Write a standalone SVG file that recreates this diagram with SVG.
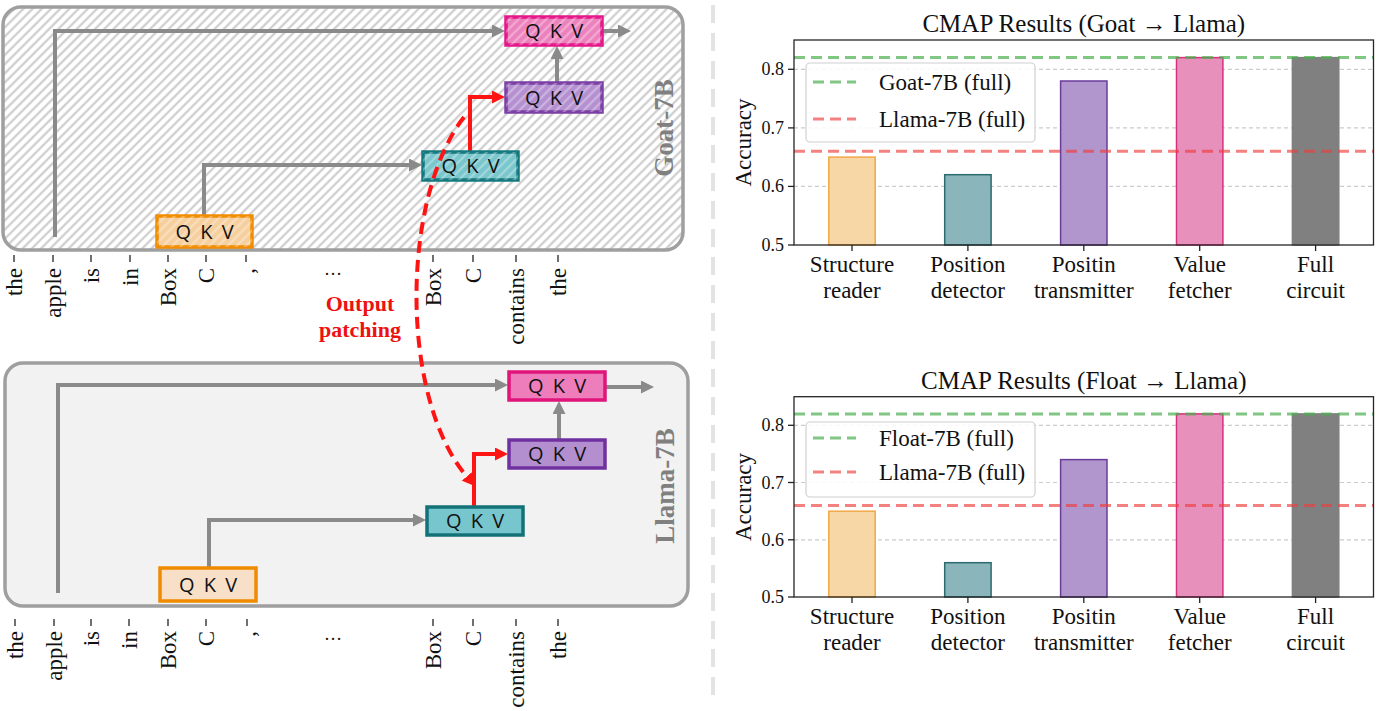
<svg xmlns="http://www.w3.org/2000/svg" width="1376" height="711" viewBox="0 0 1376 711">
<defs>
<style>
.panel{stroke:#9f9f9f;stroke-width:3.5}
.qkv{font-family:"Open Sans","DejaVu Sans",sans-serif;font-size:20px;letter-spacing:2px;fill:#111;text-anchor:middle}
.conn{fill:none;stroke:#8a8a8a;stroke-width:4}
.red{fill:none;stroke:#ff1414;stroke-width:4}
.patch{fill:none;stroke:#ff1414;stroke-width:4;stroke-dasharray:12 7}
.tok{font-family:"Liberation Serif","Times New Roman",serif;font-size:23px;fill:#111;text-anchor:end;dominant-baseline:central}
.tick{stroke:#222;stroke-width:1.3}
.model{font-family:"Liberation Serif","Times New Roman",serif;font-size:27px;font-weight:bold;fill:#808080;text-anchor:middle}
.serif{font-family:"Liberation Serif","Times New Roman",serif;fill:#111}
.title{font-size:25px;text-anchor:middle}
.ytl{font-size:18px;text-anchor:end}
.xtl{font-size:23px;text-anchor:middle}
.leg{font-size:23px}
.grid{stroke:#cccccc;stroke-width:1.2;stroke-dasharray:4 3}
.spine{stroke:#262626;stroke-width:1.3;fill:none}
.refg{stroke:#4caf50;stroke-opacity:0.7;stroke-width:3;stroke-dasharray:11 6}
.refr{stroke:#f03c3c;stroke-opacity:0.65;stroke-width:3;stroke-dasharray:11 6}
.legbox{fill:#fff;fill-opacity:0.85;stroke:#d0d0d0;stroke-width:1.2}
.b1{fill:#f7d7a5;stroke:#f0a848;stroke-width:1.5}
.b2{fill:#8ab5bb;stroke:#2c6a70;stroke-width:1.5}
.b3{fill:#b096cc;stroke:#6a3d9a;stroke-width:1.5}
.b4{fill:#e690bb;stroke:#d6307e;stroke-width:1.5}
.b5{fill:#808080;stroke:#808080;stroke-width:1.5}
</style>
<pattern id="hatch" patternUnits="userSpaceOnUse" width="6.5" height="6.5" patternTransform="rotate(45)">
<rect width="6.5" height="6.5" fill="#ffffff"/>
<line x1="3.25" y1="0" x2="3.25" y2="6.5" stroke="#c9c9c9" stroke-width="2"/>
</pattern>
<pattern id="hatchw" patternUnits="userSpaceOnUse" width="6.5" height="6.5" patternTransform="rotate(45)">
<line x1="3.25" y1="0" x2="3.25" y2="6.5" stroke="#ffffff" stroke-opacity="0.35" stroke-width="2"/>
</pattern>
<marker id="ag" viewBox="0 0 13 13" refX="2" refY="6.5" markerWidth="13" markerHeight="13" markerUnits="userSpaceOnUse" orient="auto">
<path d="M0,0 L13,6.5 L0,13 z" fill="#8a8a8a"/>
</marker>
<marker id="ar" viewBox="0 0 13 13" refX="2" refY="6.5" markerWidth="13" markerHeight="13" markerUnits="userSpaceOnUse" orient="auto">
<path d="M0,0 L13,6.5 L0,13 z" fill="#ff1414"/>
</marker>
</defs>
<rect width="1376" height="711" fill="#ffffff"/>

<!-- separator -->
<line x1="713" y1="5" x2="713" y2="700" stroke="#e3e3e3" stroke-width="4" stroke-dasharray="18 10"/>

<!-- ===== Top panel (Goat-7B) ===== -->
<g id="goat-panel">
<rect class="panel" x="3" y="7" width="680" height="243" rx="18" fill="url(#hatch)"/>
<text class="model" transform="translate(673,128) rotate(-90)">Goat-7B</text>
</g>
<g id="goat-connectors">
<path class="conn" d="M55,237 V31 H494" marker-end="url(#ag)"/>
<path class="conn" d="M602,31 H620" marker-end="url(#ag)"/>
<path class="conn" d="M557,83 V57" marker-end="url(#ag)"/>
<path class="conn" d="M204,216 V165 H411" marker-end="url(#ag)"/>
<path class="red" d="M470,152 V97 H494" marker-end="url(#ar)"/>
</g>
<g id="goat-orange">
<rect x="157" y="216" width="95" height="31" fill="#f6cf9e" stroke="#f28c00" stroke-width="3.5"/>
<rect x="157" y="216" width="95" height="31" fill="url(#hatchw)"/>
<text class="qkv" x="205.5" y="238.5">Q K V</text>
</g>
<g id="goat-teal">
<rect x="423" y="152" width="95" height="28" fill="#79c6cc" stroke="#157a80" stroke-width="3.5"/>
<rect x="423" y="152" width="95" height="28" fill="url(#hatchw)"/>
<text class="qkv" x="471.5" y="173">Q K V</text>
</g>
<g id="goat-purple">
<rect x="506" y="83" width="96" height="29" fill="#b590d0" stroke="#7b3fa6" stroke-width="3.5"/>
<rect x="506" y="83" width="96" height="29" fill="url(#hatchw)"/>
<text class="qkv" x="555" y="104.5">Q K V</text>
</g>
<g id="goat-pink">
<rect x="506" y="17" width="96" height="28" fill="#ec82bd" stroke="#e5178a" stroke-width="3.5"/>
<rect x="506" y="17" width="96" height="28" fill="url(#hatchw)"/>
<text class="qkv" x="555" y="38">Q K V</text>
</g>

<!-- top tokens -->
<g id="goat-tokens">
<g class="tick">
<line x1="14" y1="255" x2="14" y2="262"/><line x1="53" y1="255" x2="53" y2="262"/><line x1="91" y1="255" x2="91" y2="262"/><line x1="130" y1="255" x2="130" y2="262"/><line x1="168" y1="255" x2="168" y2="262"/><line x1="206" y1="255" x2="206" y2="262"/><line x1="246" y1="255" x2="246" y2="262"/><line x1="433" y1="255" x2="433" y2="262"/><line x1="473" y1="255" x2="473" y2="262"/><line x1="516" y1="255" x2="516" y2="262"/><line x1="558" y1="255" x2="558" y2="262"/>
</g>
<text class="tok" transform="translate(14,268) rotate(-90)">the</text>
<text class="tok" transform="translate(53,268) rotate(-90)">apple</text>
<text class="tok" transform="translate(91,268) rotate(-90)">is</text>
<text class="tok" transform="translate(130,268) rotate(-90)">in</text>
<text class="tok" transform="translate(168,268) rotate(-90)">Box</text>
<text class="tok" transform="translate(206,268) rotate(-90)">C</text>
<text class="tok" transform="translate(246,268) rotate(-90)">,</text>
<text class="serif" x="333" y="275" font-size="18" text-anchor="middle">…</text>
<text class="tok" transform="translate(433,268) rotate(-90)">Box</text>
<text class="tok" transform="translate(473,268) rotate(-90)">C</text>
<text class="tok" transform="translate(516,268) rotate(-90)">contains</text>
<text class="tok" transform="translate(558,268) rotate(-90)">the</text>
</g>

<!-- ===== Bottom panel (Llama-7B) ===== -->
<g id="llama-panel">
<rect class="panel" x="5" y="363" width="683" height="243" rx="18" fill="#f2f2f2"/>
<text class="model" transform="translate(674,486) rotate(-90)">Llama-7B</text>
</g>
<g id="llama-connectors">
<path class="conn" d="M58,593 V385 H497" marker-end="url(#ag)"/>
<path class="conn" d="M605,387 H643" marker-end="url(#ag)"/>
<path class="conn" d="M559,440 V412" marker-end="url(#ag)"/>
<path class="conn" d="M209,568 V520 H415" marker-end="url(#ag)"/>
<path class="red" d="M474,507 V454 H497" marker-end="url(#ar)"/>
</g>
<g id="llama-orange">
<rect x="160" y="568" width="96" height="33" fill="#f8dfc8" stroke="#f08a00" stroke-width="3.5"/>
<text class="qkv" x="209" y="591.5">Q K V</text>
</g>
<g id="llama-teal">
<rect x="427" y="507" width="96" height="28" fill="#78c6cd" stroke="#137278" stroke-width="3.5"/>
<text class="qkv" x="476" y="528">Q K V</text>
</g>
<g id="llama-purple">
<rect x="509" y="440" width="96" height="28" fill="#b38fd0" stroke="#7030a0" stroke-width="3.5"/>
<text class="qkv" x="558" y="461">Q K V</text>
</g>
<g id="llama-pink">
<rect x="509" y="372" width="96" height="28" fill="#ee7dbb" stroke="#e0147a" stroke-width="3.5"/>
<text class="qkv" x="558" y="393">Q K V</text>
</g>

<!-- bottom tokens -->
<g id="llama-tokens">
<g class="tick">
<line x1="15" y1="619" x2="15" y2="626"/><line x1="54" y1="619" x2="54" y2="626"/><line x1="91" y1="619" x2="91" y2="626"/><line x1="129" y1="619" x2="129" y2="626"/><line x1="168" y1="619" x2="168" y2="626"/><line x1="206" y1="619" x2="206" y2="626"/><line x1="247" y1="619" x2="247" y2="626"/><line x1="433" y1="619" x2="433" y2="626"/><line x1="473" y1="619" x2="473" y2="626"/><line x1="516" y1="619" x2="516" y2="626"/><line x1="558" y1="619" x2="558" y2="626"/>
</g>
<text class="tok" transform="translate(15,631) rotate(-90)">the</text>
<text class="tok" transform="translate(54,631) rotate(-90)">apple</text>
<text class="tok" transform="translate(91,631) rotate(-90)">is</text>
<text class="tok" transform="translate(129,631) rotate(-90)">in</text>
<text class="tok" transform="translate(168,631) rotate(-90)">Box</text>
<text class="tok" transform="translate(206,631) rotate(-90)">C</text>
<text class="tok" transform="translate(247,631) rotate(-90)">,</text>
<text class="serif" x="333" y="640" font-size="18" text-anchor="middle">…</text>
<text class="tok" transform="translate(433,631) rotate(-90)">Box</text>
<text class="tok" transform="translate(473,631) rotate(-90)">C</text>
<text class="tok" transform="translate(516,631) rotate(-90)">contains</text>
<text class="tok" transform="translate(558,631) rotate(-90)">the</text>
</g>

<!-- Output patching -->
<g id="output-patching">
<path class="patch" d="M464,117 C400,200 400,400 468,478" marker-end="url(#ar)"/>
<text x="360" y="311" font-family="Liberation Serif, Times New Roman, serif" font-size="22" font-weight="bold" fill="#ee1111" text-anchor="middle">Output</text>
<text x="360" y="337" font-family="Liberation Serif, Times New Roman, serif" font-size="22" font-weight="bold" fill="#ee1111" text-anchor="middle">patching</text>
</g>

<!-- ===== Chart 1 ===== -->
<g id="chart-goat">
<text class="serif title" x="1083.75" y="32">CMAP Results (Goat → Llama)</text>
<g>
<line class="grid" x1="794" y1="186.4" x2="1373.5" y2="186.4"/>
<line class="grid" x1="794" y1="127.9" x2="1373.5" y2="127.9"/>
<line class="grid" x1="794" y1="69.3" x2="1373.5" y2="69.3"/>
</g>
<rect class="b1" x="828.8" y="157.1" width="46.4" height="87.9"/>
<rect class="b2" x="944.7" y="174.7" width="46.4" height="70.3"/>
<rect class="b3" x="1060.6" y="81" width="46.4" height="164"/>
<rect class="b4" x="1176.5" y="57.6" width="46.4" height="187.4"/>
<rect class="b5" x="1292.4" y="57.6" width="46.4" height="187.4"/>
<line class="refg" x1="794" y1="57.6" x2="1373.5" y2="57.6"/>
<line class="refr" x1="794" y1="151.3" x2="1373.5" y2="151.3"/>
<rect class="spine" x="794" y="40" width="579.5" height="205"/>
<g class="tick">
<line x1="788" y1="245" x2="794" y2="245"/><line x1="788" y1="186.4" x2="794" y2="186.4"/><line x1="788" y1="127.9" x2="794" y2="127.9"/><line x1="788" y1="69.3" x2="794" y2="69.3"/>
<line x1="852" y1="245" x2="852" y2="251"/><line x1="967.9" y1="245" x2="967.9" y2="251"/><line x1="1083.8" y1="245" x2="1083.8" y2="251"/><line x1="1199.7" y1="245" x2="1199.7" y2="251"/><line x1="1315.6" y1="245" x2="1315.6" y2="251"/>
</g>
<text class="serif ytl" x="784" y="251">0.5</text>
<text class="serif ytl" x="784" y="192.4">0.6</text>
<text class="serif ytl" x="784" y="133.9">0.7</text>
<text class="serif ytl" x="784" y="75.3">0.8</text>
<text class="serif" font-size="23" text-anchor="middle" dominant-baseline="central" transform="translate(743,142.5) rotate(-90)">Accuracy</text>
<text class="serif xtl" x="852" y="272">Structure</text><text class="serif xtl" x="852" y="298">reader</text>
<text class="serif xtl" x="967.9" y="272">Position</text><text class="serif xtl" x="967.9" y="298">detector</text>
<text class="serif xtl" x="1083.8" y="272">Positin</text><text class="serif xtl" x="1083.8" y="298">transmitter</text>
<text class="serif xtl" x="1199.7" y="272">Value</text><text class="serif xtl" x="1199.7" y="298">fetcher</text>
<text class="serif xtl" x="1315.6" y="272">Full</text><text class="serif xtl" x="1315.6" y="298">circuit</text>
<rect class="legbox" x="806" y="63" width="229" height="79" rx="4"/>
<line class="refg" x1="813" y1="82" x2="856" y2="82"/>
<text class="serif leg" x="879" y="90">Goat-7B (full)</text>
<line class="refr" x1="813" y1="119" x2="856" y2="119"/>
<text class="serif leg" x="879" y="127">Llama-7B (full)</text>
</g>

<!-- ===== Chart 2 ===== -->
<g id="chart-float">
<text class="serif title" x="1083.75" y="389">CMAP Results (Float → Llama)</text>
<g>
<line class="grid" x1="794" y1="539.8" x2="1373.5" y2="539.8"/>
<line class="grid" x1="794" y1="482.5" x2="1373.5" y2="482.5"/>
<line class="grid" x1="794" y1="425.3" x2="1373.5" y2="425.3"/>
</g>
<rect class="b1" x="828.8" y="511.2" width="46.4" height="85.8"/>
<rect class="b2" x="944.7" y="562.7" width="46.4" height="34.3"/>
<rect class="b3" x="1060.6" y="459.6" width="46.4" height="137.4"/>
<rect class="b4" x="1176.5" y="413.9" width="46.4" height="183.1"/>
<rect class="b5" x="1292.4" y="413.9" width="46.4" height="183.1"/>
<line class="refg" x1="794" y1="413.9" x2="1373.5" y2="413.9"/>
<line class="refr" x1="794" y1="505.4" x2="1373.5" y2="505.4"/>
<rect class="spine" x="794" y="396.7" width="579.5" height="200.3"/>
<g class="tick">
<line x1="788" y1="597" x2="794" y2="597"/><line x1="788" y1="539.8" x2="794" y2="539.8"/><line x1="788" y1="482.5" x2="794" y2="482.5"/><line x1="788" y1="425.3" x2="794" y2="425.3"/>
<line x1="852" y1="597" x2="852" y2="603"/><line x1="967.9" y1="597" x2="967.9" y2="603"/><line x1="1083.8" y1="597" x2="1083.8" y2="603"/><line x1="1199.7" y1="597" x2="1199.7" y2="603"/><line x1="1315.6" y1="597" x2="1315.6" y2="603"/>
</g>
<text class="serif ytl" x="784" y="603">0.5</text>
<text class="serif ytl" x="784" y="545.8">0.6</text>
<text class="serif ytl" x="784" y="488.5">0.7</text>
<text class="serif ytl" x="784" y="431.3">0.8</text>
<text class="serif" font-size="23" text-anchor="middle" dominant-baseline="central" transform="translate(743,497) rotate(-90)">Accuracy</text>
<text class="serif xtl" x="852" y="624">Structure</text><text class="serif xtl" x="852" y="650">reader</text>
<text class="serif xtl" x="967.9" y="624">Position</text><text class="serif xtl" x="967.9" y="650">detector</text>
<text class="serif xtl" x="1083.8" y="624">Positin</text><text class="serif xtl" x="1083.8" y="650">transmitter</text>
<text class="serif xtl" x="1199.7" y="624">Value</text><text class="serif xtl" x="1199.7" y="650">fetcher</text>
<text class="serif xtl" x="1315.6" y="624">Full</text><text class="serif xtl" x="1315.6" y="650">circuit</text>
<rect class="legbox" x="806" y="422" width="229" height="75" rx="4"/>
<line class="refg" x1="813" y1="438" x2="856" y2="438"/>
<text class="serif leg" x="879" y="446">Float-7B (full)</text>
<line class="refr" x1="813" y1="472" x2="856" y2="472"/>
<text class="serif leg" x="879" y="480">Llama-7B (full)</text>
</g>
</svg>
